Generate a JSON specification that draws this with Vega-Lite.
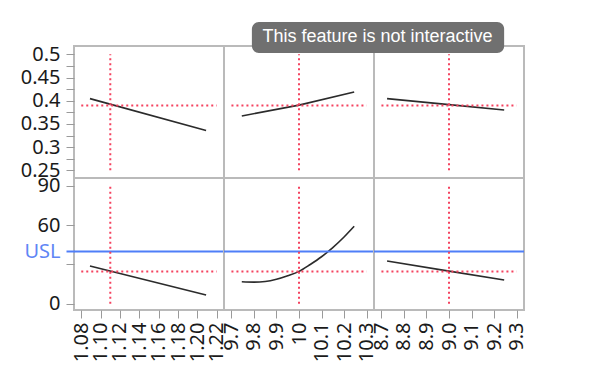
{
  "$schema": "https://vega.github.io/schema/vega-lite/v6.json",
  "background": "white",
  "padding": {"left": 19, "top": 21, "right": 0, "bottom": 0},
  "datasets": {
    "curves": [
      {"response": "Y1", "factor": "X1", "x": 1.089, "y": 0.4045},
      {"response": "Y1", "factor": "X1", "x": 1.1097, "y": 0.3926},
      {"response": "Y1", "factor": "X1", "x": 1.209, "y": 0.3356},
      {"response": "Y1", "factor": "X2", "x": 9.746, "y": 0.367},
      {"response": "Y1", "factor": "X2", "x": 10.0, "y": 0.3905},
      {"response": "Y1", "factor": "X2", "x": 10.245, "y": 0.4187},
      {"response": "Y1", "factor": "X3", "x": 8.725, "y": 0.4045},
      {"response": "Y1", "factor": "X3", "x": 9.0, "y": 0.3915},
      {"response": "Y1", "factor": "X3", "x": 9.245, "y": 0.3799},
      {"response": "Y2", "factor": "X1", "x": 1.089, "y": 28.8},
      {"response": "Y2", "factor": "X1", "x": 1.1097, "y": 25.0},
      {"response": "Y2", "factor": "X1", "x": 1.209, "y": 6.7},
      {"response": "Y2", "factor": "X2", "x": 9.746, "y": 16.8},
      {"response": "Y2", "factor": "X2", "x": 9.8, "y": 16.5},
      {"response": "Y2", "factor": "X2", "x": 9.85, "y": 17.0},
      {"response": "Y2", "factor": "X2", "x": 9.9, "y": 18.7},
      {"response": "Y2", "factor": "X2", "x": 9.95, "y": 21.4},
      {"response": "Y2", "factor": "X2", "x": 10.0, "y": 24.7},
      {"response": "Y2", "factor": "X2", "x": 10.05, "y": 30.0},
      {"response": "Y2", "factor": "X2", "x": 10.1, "y": 35.9},
      {"response": "Y2", "factor": "X2", "x": 10.15, "y": 42.9},
      {"response": "Y2", "factor": "X2", "x": 10.2, "y": 51.0},
      {"response": "Y2", "factor": "X2", "x": 10.245, "y": 59.2},
      {"response": "Y2", "factor": "X3", "x": 8.725, "y": 32.6},
      {"response": "Y2", "factor": "X3", "x": 9.0, "y": 24.9},
      {"response": "Y2", "factor": "X3", "x": 9.245, "y": 18.1}
    ],
    "settings": [
      {"factor": "X1", "value": 1.11},
      {"factor": "X2", "value": 10.0},
      {"factor": "X3", "value": 9.0}
    ],
    "predictions": [
      {"response": "Y1", "value": 0.3894},
      {"response": "Y2", "value": 24.7}
    ],
    "limits": [
      {"response": "Y2", "label": "USL", "value": 40}
    ],
    "notes": [
      {"text": "This feature is not interactive"}
    ]
  },
  "config": {
    "view": {"stroke": "#bababa", "strokeWidth": 2},
    "axis": {
      "labelFont": "Noto Sans", "labelFontSize": 20, "labelColor": "#1a1a1a",
      "tickColor": "#9a9a9a", "tickSize": 8, "tickWidth": 1, "tickCount": 30,
      "domain": false, "grid": false, "labelOverlap": false,
      "labelBound": false, "labelFlush": false
    }
  },
  "columns": 3,
  "spacing": 0,
  "bounds": "flush",
  "concat": [
    {
      "width": 150, "height": 132,
      "layer": [
        {"data": {"name": "curves"}, "transform": [{"filter": "datum.response == 'Y1' && datum.factor == 'X1'"}],
         "mark": {"type": "line", "color": "#2b2b2b", "strokeWidth": 1.6},
         "encoding": {
           "x": {"field": "x", "type": "quantitative", "scale": {"domain": [1.0725, 1.2275], "nice": false, "zero": false}, "axis": null},
           "y": {"field": "y", "type": "quantitative", "scale": {"domain": [0.2334, 0.5179], "nice": false, "zero": false},
                 "axis": {"title": null, "values": [0.25, 0.275, 0.3, 0.325, 0.35, 0.375, 0.4, 0.425, 0.45, 0.475, 0.5], "tickCount": 30, "labelOverlap": false, "labelExpr": "round(datum.value * 40) % 2 == 0 ? format(datum.value, '~g') : ''", "labelPadding": 6}}
         }},
        {"data": {"name": "settings"}, "transform": [{"filter": "datum.factor == 'X1'"}],
         "mark": {"type": "rule", "color": "#f5425f", "strokeWidth": 2, "strokeDash": [2, 3]},
         "encoding": {"x": {"field": "value", "type": "quantitative"}, "y": {"datum": 0.25}, "y2": {"datum": 0.5}}},
        {"data": {"name": "predictions"}, "transform": [{"filter": "datum.response == 'Y1'"}],
         "mark": {"type": "rule", "color": "#f5425f", "strokeWidth": 2, "strokeDash": [2, 3]},
         "encoding": {"y": {"field": "value", "type": "quantitative"}, "x": {"datum": 1.08}, "x2": {"datum": 1.22}}}
      ]
    },
    {
      "width": 150, "height": 132,
      "layer": [
        {"data": {"name": "curves"}, "transform": [{"filter": "datum.response == 'Y1' && datum.factor == 'X2'"}],
         "mark": {"type": "line", "color": "#2b2b2b", "strokeWidth": 1.6},
         "encoding": {
           "x": {"field": "x", "type": "quantitative", "scale": {"domain": [9.667, 10.333], "nice": false, "zero": false}, "axis": null},
           "y": {"field": "y", "type": "quantitative", "scale": {"domain": [0.2334, 0.5179], "nice": false, "zero": false}, "axis": null}
         }},
        {"data": {"name": "settings"}, "transform": [{"filter": "datum.factor == 'X2'"}],
         "mark": {"type": "rule", "color": "#f5425f", "strokeWidth": 2, "strokeDash": [2, 3]},
         "encoding": {"x": {"field": "value", "type": "quantitative"}, "y": {"datum": 0.25}, "y2": {"datum": 0.5}}},
        {"data": {"name": "predictions"}, "transform": [{"filter": "datum.response == 'Y1'"}],
         "mark": {"type": "rule", "color": "#f5425f", "strokeWidth": 2, "strokeDash": [2, 3]},
         "encoding": {"y": {"field": "value", "type": "quantitative"}, "x": {"datum": 9.7}, "x2": {"datum": 10.3}}}
      ]
    },
    {
      "width": 150, "height": 132,
      "layer": [
        {"data": {"name": "curves"}, "transform": [{"filter": "datum.response == 'Y1' && datum.factor == 'X3'"}],
         "mark": {"type": "line", "color": "#2b2b2b", "strokeWidth": 1.6},
         "encoding": {
           "x": {"field": "x", "type": "quantitative", "scale": {"domain": [8.667, 9.333], "nice": false, "zero": false}, "axis": null},
           "y": {"field": "y", "type": "quantitative", "scale": {"domain": [0.2334, 0.5179], "nice": false, "zero": false}, "axis": null}
         }},
        {"data": {"name": "settings"}, "transform": [{"filter": "datum.factor == 'X3'"}],
         "mark": {"type": "rule", "color": "#f5425f", "strokeWidth": 2, "strokeDash": [2, 3]},
         "encoding": {"x": {"field": "value", "type": "quantitative"}, "y": {"datum": 0.25}, "y2": {"datum": 0.5}}},
        {"data": {"name": "predictions"}, "transform": [{"filter": "datum.response == 'Y1'"}],
         "mark": {"type": "rule", "color": "#f5425f", "strokeWidth": 2, "strokeDash": [2, 3]},
         "encoding": {"y": {"field": "value", "type": "quantitative"}, "x": {"datum": 8.7}, "x2": {"datum": 9.3}}},
        {"data": {"name": "notes"},
         "mark": {"type": "rect", "color": "#707070", "cornerRadius": 7, "clip": false},
         "encoding": {"x": {"datum": 8.1248}, "x2": {"datum": 9.2448}, "y": {"datum": 0.5696}, "y2": {"datum": 0.5028}}},
        {"data": {"name": "notes"},
         "mark": {"type": "text", "color": "white", "font": "Liberation Sans", "fontSize": 18, "align": "center", "baseline": "middle", "clip": false},
         "encoding": {"x": {"datum": 8.6826}, "y": {"datum": 0.5373}, "text": {"field": "text"}}}
      ]
    },
    {
      "width": 150, "height": 132,
      "layer": [
        {"data": {"name": "curves"}, "transform": [{"filter": "datum.response == 'Y2' && datum.factor == 'X1'"}],
         "mark": {"type": "line", "color": "#2b2b2b", "strokeWidth": 1.6},
         "encoding": {
           "x": {"field": "x", "type": "quantitative", "scale": {"domain": [1.0725, 1.2275], "nice": false, "zero": false},
                 "axis": {"title": null, "values": [1.08, 1.1, 1.12, 1.14, 1.16, 1.18, 1.2, 1.22], "tickCount": 30, "labelOverlap": false, "labelExpr": "format(datum.value, '.2f')", "labelAngle": 270, "labelPadding": 4}},
           "y": {"field": "y", "type": "quantitative", "scale": {"domain": [-4.8, 96.1], "nice": false, "zero": false},
                 "axis": {"title": null, "values": [0, 30, 40, 60, 90], "tickCount": 30, "labelOverlap": false, "labelExpr": "datum.value == 40 ? 'USL' : datum.value == 30 ? '' : format(datum.value, 'd')", "labelPadding": 6,
                          "labelColor": {"condition": {"test": "datum.value == 40", "value": "#5f86f5"}, "value": "#1a1a1a"},
                          "tickColor": {"condition": {"test": "datum.value == 40", "value": "#4f7ef8"}, "value": "#9a9a9a"},
                          "tickWidth": {"condition": {"test": "datum.value == 40", "value": 2}, "value": 1}}}
         }},
        {"data": {"name": "limits"},
         "mark": {"type": "rule", "color": "#4f7ef8", "strokeWidth": 2},
         "encoding": {"y": {"field": "value", "type": "quantitative"}}},
        {"data": {"name": "settings"}, "transform": [{"filter": "datum.factor == 'X1'"}],
         "mark": {"type": "rule", "color": "#f5425f", "strokeWidth": 2, "strokeDash": [2, 3]},
         "encoding": {"x": {"field": "value", "type": "quantitative"}, "y": {"datum": 0}, "y2": {"datum": 90}}},
        {"data": {"name": "predictions"}, "transform": [{"filter": "datum.response == 'Y2'"}],
         "mark": {"type": "rule", "color": "#f5425f", "strokeWidth": 2, "strokeDash": [2, 3]},
         "encoding": {"y": {"field": "value", "type": "quantitative"}, "x": {"datum": 1.08}, "x2": {"datum": 1.22}}}
      ]
    },
    {
      "width": 150, "height": 132,
      "layer": [
        {"data": {"name": "curves"}, "transform": [{"filter": "datum.response == 'Y2' && datum.factor == 'X2'"}],
         "mark": {"type": "line", "color": "#2b2b2b", "strokeWidth": 1.6, "interpolate": "monotone"},
         "encoding": {
           "x": {"field": "x", "type": "quantitative", "scale": {"domain": [9.667, 10.333], "nice": false, "zero": false},
                 "axis": {"title": null, "values": [9.7, 9.8, 9.9, 10, 10.1, 10.2, 10.3], "tickCount": 30, "labelOverlap": false, "labelExpr": "datum.value == 10 ? '10' : format(datum.value, '.1f')", "labelAngle": 270, "labelPadding": 4}},
           "y": {"field": "y", "type": "quantitative", "scale": {"domain": [-4.8, 96.1], "nice": false, "zero": false}, "axis": null}
         }},
        {"data": {"name": "limits"},
         "mark": {"type": "rule", "color": "#4f7ef8", "strokeWidth": 2},
         "encoding": {"y": {"field": "value", "type": "quantitative"}}},
        {"data": {"name": "settings"}, "transform": [{"filter": "datum.factor == 'X2'"}],
         "mark": {"type": "rule", "color": "#f5425f", "strokeWidth": 2, "strokeDash": [2, 3]},
         "encoding": {"x": {"field": "value", "type": "quantitative"}, "y": {"datum": 0}, "y2": {"datum": 90}}},
        {"data": {"name": "predictions"}, "transform": [{"filter": "datum.response == 'Y2'"}],
         "mark": {"type": "rule", "color": "#f5425f", "strokeWidth": 2, "strokeDash": [2, 3]},
         "encoding": {"y": {"field": "value", "type": "quantitative"}, "x": {"datum": 9.7}, "x2": {"datum": 10.3}}}
      ]
    },
    {
      "width": 150, "height": 132,
      "layer": [
        {"data": {"name": "curves"}, "transform": [{"filter": "datum.response == 'Y2' && datum.factor == 'X3'"}],
         "mark": {"type": "line", "color": "#2b2b2b", "strokeWidth": 1.6},
         "encoding": {
           "x": {"field": "x", "type": "quantitative", "scale": {"domain": [8.667, 9.333], "nice": false, "zero": false},
                 "axis": {"title": null, "values": [8.7, 8.8, 8.9, 9.0, 9.1, 9.2, 9.3], "tickCount": 30, "labelOverlap": false, "labelExpr": "format(datum.value, '.1f')", "labelAngle": 270, "labelPadding": 4}},
           "y": {"field": "y", "type": "quantitative", "scale": {"domain": [-4.8, 96.1], "nice": false, "zero": false}, "axis": null}
         }},
        {"data": {"name": "limits"},
         "mark": {"type": "rule", "color": "#4f7ef8", "strokeWidth": 2},
         "encoding": {"y": {"field": "value", "type": "quantitative"}}},
        {"data": {"name": "settings"}, "transform": [{"filter": "datum.factor == 'X3'"}],
         "mark": {"type": "rule", "color": "#f5425f", "strokeWidth": 2, "strokeDash": [2, 3]},
         "encoding": {"x": {"field": "value", "type": "quantitative"}, "y": {"datum": 0}, "y2": {"datum": 90}}},
        {"data": {"name": "predictions"}, "transform": [{"filter": "datum.response == 'Y2'"}],
         "mark": {"type": "rule", "color": "#f5425f", "strokeWidth": 2, "strokeDash": [2, 3]},
         "encoding": {"y": {"field": "value", "type": "quantitative"}, "x": {"datum": 8.7}, "x2": {"datum": 9.3}}}
      ]
    }
  ]
}
